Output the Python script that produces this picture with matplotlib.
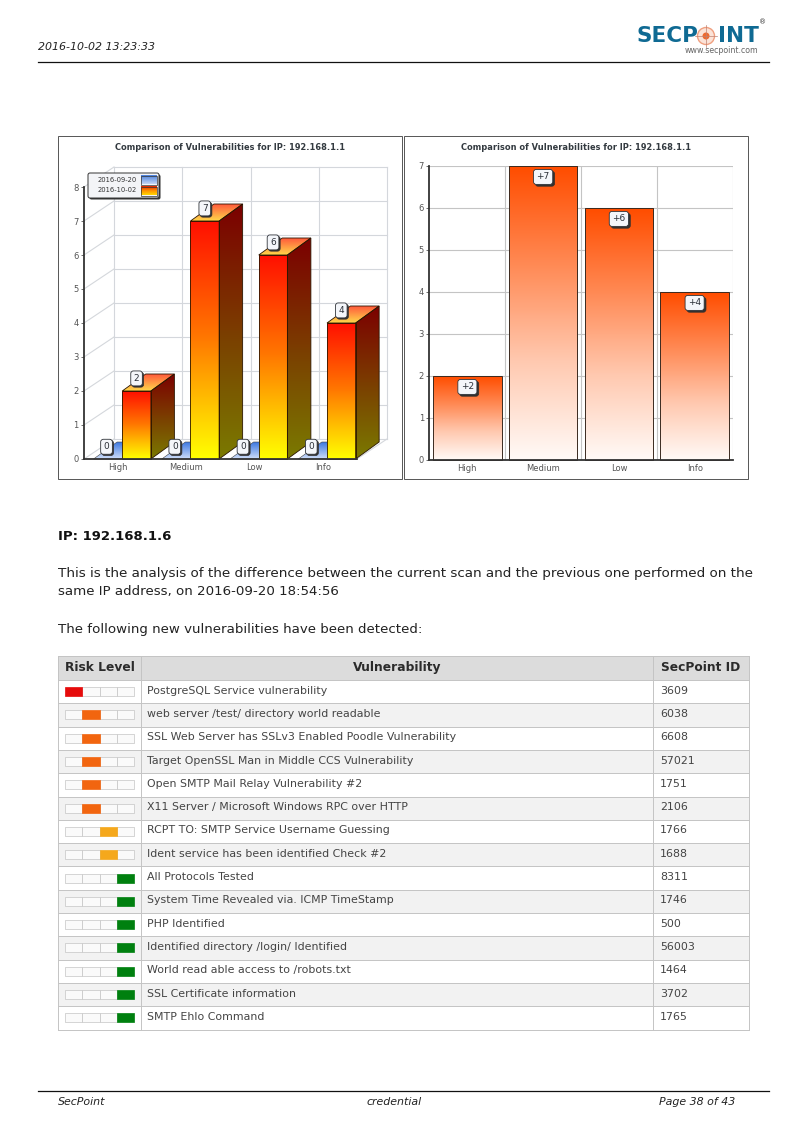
import numpy as np
import matplotlib
matplotlib.use("Agg")
import matplotlib.pyplot as plt
from matplotlib.colors import LinearSegmentedColormap as LSC
from matplotlib.patches import Polygon, Rectangle, Circle, FancyBboxPatch

W, H = 807, 1140
plt.rcParams['font.family'] = ['DejaVu Sans']

categories = ['High', 'Medium', 'Low', 'Info']
previous_scan = [0, 0, 0, 0]
current_scan = [2, 7, 6, 4]
difference = [2, 7, 6, 4]
legend_labels = ['2016-09-20', '2016-10-02']
chart_title = 'Comparison of Vulnerabilities for IP: 192.168.1.1'

risk_levels = [0, 1, 1, 1, 1, 1, 2, 2, 3, 3, 3, 3, 3, 3, 3]
vulnerabilities = [
    'PostgreSQL Service vulnerability',
    'web server /test/ directory world readable',
    'SSL Web Server has SSLv3 Enabled Poodle Vulnerability',
    'Target OpenSSL Man in Middle CCS Vulnerability',
    'Open SMTP Mail Relay Vulnerability #2',
    'X11 Server / Microsoft Windows RPC over HTTP',
    'RCPT TO: SMTP Service Username Guessing',
    'Ident service has been identified Check #2',
    'All Protocols Tested',
    'System Time Revealed via. ICMP TimeStamp',
    'PHP Identified',
    'Identified directory /login/ Identified',
    'World read able access to /robots.txt',
    'SSL Certificate information',
    'SMTP Ehlo Command',
]
secpoint_ids = [3609, 6038, 6608, 57021, 1751, 2106, 1766, 1688, 8311, 1746, 500, 56003, 1464, 3702, 1765]
risk_colors = ['#e60b0b', '#f2650f', '#f5a81c', '#00800f']

fig = plt.figure(figsize=(W / 100, H / 100), dpi=100, facecolor='white')


def px_axes(x0, y0, x1, y1, z):
    return fig.add_axes([x0 / W, 1 - y1 / H, (x1 - x0) / W, (y1 - y0) / H], zorder=z)


def grad(ax, extent, colors, clip=None, z=3):
    im = ax.imshow(np.linspace(0, 1, 128).reshape(-1, 1), extent=extent, origin='upper', aspect='auto',
                   cmap=LSC.from_list('g', colors), vmin=0, vmax=1, zorder=z, interpolation='bilinear')
    if clip is not None:
        patch = Polygon(clip, closed=True, transform=ax.transData)
        im.set_clip_path(patch)
    im.set_clip_box(fig.bbox)
    return im


def badge(ax, x, y, s, size=6.5, shadow=(1.6, -1.6), pad=0.3):
    ax.annotate(s, (x, y), xytext=shadow, textcoords='offset points', ha='center', va='center', fontsize=size,
                color='#33302e', zorder=8, annotation_clip=False,
                bbox=dict(boxstyle=f'round,pad={pad},rounding_size=0.3', fc='#33302e', ec='#33302e', lw=0.5))
    ax.annotate(s, (x, y), xytext=(0, 0), textcoords='offset points', ha='center', va='center', fontsize=size,
                color='#2b3038', zorder=9, annotation_clip=False,
                bbox=dict(boxstyle=f'round,pad={pad},rounding_size=0.3', fc='#f4f6fa', ec='#30343a', lw=0.6))


# ---------- page ----------
page = px_axes(0, 0, W, H, 0)
page.set_xlim(0, W)
page.set_ylim(H, 0)
page.axis('off')

page.text(38, 47, '2016-10-02 13:23:33', fontsize=7.95, style='italic', color='#222222', va='center')
page.plot([38, 769], [61.5, 61.5], color='#111111', lw=0.9)
page.plot([38, 769], [1090.5, 1090.5], color='#111111', lw=0.9)
page.text(58, 1102, 'SecPoint', fontsize=7.95, style='italic', color='#222222', va='center')
page.text(394, 1102, 'credential', fontsize=7.95, style='italic', color='#222222', va='center', ha='center')
page.text(697, 1102, 'Page 38 of 43', fontsize=7.95, style='italic', color='#222222', va='center', ha='center')

# logo
logo_blue = '#0f6a93'
page.text(636, 36, 'SECP', fontsize=15.5, fontweight='bold', color=logo_blue, va='center', ha='left')
page.text(718, 36, 'INT', fontsize=15.5, fontweight='bold', color=logo_blue, va='center', ha='left')
page.add_patch(Circle((706, 36), 8.5, fc='#fbe3d8', ec='#f0a080', lw=1))
page.add_patch(Circle((706, 36), 3.5, fc='#ee6a30', ec='none'))
page.plot([706, 706], [25, 47], color='#c08070', lw=0.5)
page.plot([695, 717], [36, 36], color='#c08070', lw=0.5)
page.text(763, 22, '®', fontsize=5, color='#333333', ha='center', va='center')
page.text(721, 50.5, 'www.secpoint.com', fontsize=5.7, color='#666666', ha='center', va='center')

# panels
page.add_patch(Rectangle((58, 135.5), 344, 343, fc='white', ec='#555555', lw=0.7))
page.add_patch(Rectangle((404, 135.5), 344, 343, fc='white', ec='#555555', lw=0.7))
page.text(230, 148, chart_title, fontsize=5.95, fontweight='bold', color='#333a40', ha='center', va='center')
page.text(576, 148, chart_title, fontsize=5.95, fontweight='bold', color='#333a40', ha='center', va='center')

# body text
page.text(58, 536, 'IP: 192.168.1.6', fontsize=9.5, fontweight='bold', color='#111111', va='center')
page.text(58, 573, 'This is the analysis of the difference between the current scan and the previous one performed on the',
          fontsize=9.69, color='#222222', va='center')
page.text(58, 592, 'same IP address, on 2016-09-20 18:54:56', fontsize=9.65, color='#222222', va='center')
page.text(58, 629, 'The following new vulnerabilities have been detected:', fontsize=9.65, color='#222222', va='center')

# table
tx = [58, 141, 653, 749]
top, head_bot, bot = 656, 680, 1029.5
row_h = (bot - head_bot) / len(vulnerabilities)
page.add_patch(Rectangle((tx[0], top), tx[3] - tx[0], head_bot - top, fc='#dcdcdc', ec='none'))
page.text(99.5, 667.5, 'Risk Level', fontsize=8.8, fontweight='bold', color='#2b2b2b', ha='center', va='center')
page.text(397, 667.5, 'Vulnerability', fontsize=8.8, fontweight='bold', color='#2b2b2b', ha='center', va='center')
page.text(701, 667.5, 'SecPoint ID', fontsize=8.8, fontweight='bold', color='#2b2b2b', ha='center', va='center')
for i, (lvl, name, vid) in enumerate(zip(risk_levels, vulnerabilities, secpoint_ids)):
    y0 = head_bot + i * row_h
    if i % 2:
        page.add_patch(Rectangle((tx[0], y0), tx[3] - tx[0], row_h, fc='#f2f2f2', ec='none'))
    page.plot([tx[0], tx[3]], [y0 + row_h] * 2, color='#c4c4c4', lw=0.7)
    cy = y0 + row_h / 2
    page.text(147, cy - 1, name, fontsize=7.9, color='#444444', va='center')
    page.text(660, cy - 1, str(vid), fontsize=7.9, color='#444444', va='center')
    seg = 17.25
    for s in range(4):
        page.add_patch(Rectangle((65 + s * seg, cy - 4.5), seg, 9, fc='#fafafa' if s != lvl else risk_colors[lvl],
                                 ec='#c4c4c4' if s != lvl else risk_colors[lvl], lw=0.5, zorder=3 if s == lvl else 2))
page.plot([tx[0], tx[3]], [head_bot, head_bot], color='#c4c4c4', lw=0.7)
page.plot([tx[0], tx[3]], [top, top], color='#c4c4c4', lw=0.7)
for x in tx:
    page.plot([x, x], [top, bot], color='#c4c4c4', lw=0.7)

# ---------- left chart (3D look) ----------
ax = px_axes(84, 187, 357, 459, 1)
ax.patch.set_visible(False)
n = len(categories)
ymax = 8
wall_dx, wall_dy = 30 / 68.25, 20 / 34
bar_dx, bar_dy = 23.5 / 68.25, 17 / 34
grid_c = '#d4d7dc'
for v in range(ymax + 1):
    ax.plot([wall_dx, n + wall_dx], [v + wall_dy] * 2, color=grid_c, lw=0.8, clip_on=False, zorder=1)
    ax.plot([0, wall_dx], [v, v + wall_dy], color=grid_c, lw=0.8, clip_on=False, zorder=1)
for c in range(n + 1):
    ax.plot([c + wall_dx] * 2, [wall_dy, ymax + wall_dy], color=grid_c, lw=0.8, clip_on=False, zorder=1)
ax.plot([n, n + wall_dx], [0, wall_dy], color=grid_c, lw=0.8, clip_on=False, zorder=1)

side = ['#7c0000', '#7a7a00']
front = ['#ff1000', '#ff7a00', '#ffff00']
topf = ['#ff5a3c', '#ffd84a']
blue = ['#3d78e0', '#d0def9']
width = 0.42
for i, (p, v) in enumerate(zip(previous_scan, current_scan)):
    b0 = i + 0.14
    b1 = b0 + width
    # previous scan bar (flat top)
    poly = [(b0, p), (b1, p), (b1 + bar_dx, p + bar_dy), (b0 + bar_dx, p + bar_dy)]
    grad(ax, (b0, b1 + bar_dx, p, p + bar_dy), blue, poly, z=2)
    ax.add_patch(Polygon(poly, fc='none', ec='#444444', lw=0.4, clip_on=False, zorder=2.5))
    # current scan bar
    x0, x1 = b1, b1 + width
    pf = [(x0, 0), (x1, 0), (x1, v), (x0, v)]
    ps = [(x1, 0), (x1 + bar_dx, bar_dy), (x1 + bar_dx, v + bar_dy), (x1, v)]
    pt = [(x0, v), (x1, v), (x1 + bar_dx, v + bar_dy), (x0 + bar_dx, v + bar_dy)]
    grad(ax, (x0, x1, 0, v), front, pf, z=4)
    grad(ax, (x1, x1 + bar_dx, 0, v + bar_dy), side, ps, z=4)
    grad(ax, (x0, x1 + bar_dx, v, v + bar_dy), topf, pt, z=4)
    for poly2 in (pf, ps, pt):
        ax.add_patch(Polygon(poly2, fc='none', ec='#2a1500', lw=0.6, clip_on=False, zorder=5))
    badge(ax, b0 + 0.19, p + 0.36, str(p), size=6.5, shadow=(0.9, -0.9), pad=0.33)
    badge(ax, x0 + 0.21, v + 0.37, str(v), size=6.5, shadow=(0.9, -0.9), pad=0.33)
ax.set_xlim(0, n)
ax.set_ylim(0, ymax)
ax.set_xticks(np.arange(n) + 0.5, categories)
ax.set_yticks(range(ymax + 1))
for s in ('top', 'right'):
    ax.spines[s].set_visible(False)
for s in ('left', 'bottom'):
    ax.spines[s].set_color('#333333')
    ax.spines[s].set_linewidth(1.3)
    ax.spines[s].set_zorder(6)
ax.tick_params(axis='x', length=0, labelsize=6, labelcolor='#555555', pad=3)
ax.tick_params(axis='y', length=2, width=0.6, color='#555555', labelsize=6, labelcolor='#555555', pad=2)

# ---------- right chart ----------
ar = px_axes(429.5, 166, 732.5, 460, 1)
ar.patch.set_visible(False)
ymax_r = 7
for v in range(1, ymax_r + 1):
    ar.plot([0, n], [v, v], color='#c4c4c4', lw=0.8, zorder=1)
for c in range(1, n + 1):
    ar.plot([c, c], [0, ymax_r], color='#c4c4c4', lw=0.8, zorder=1)
w_r = 0.905
for i, v in enumerate(difference):
    x0, x1 = i + 0.5 - w_r / 2, i + 0.5 + w_r / 2
    grad(ar, (x0, x1, 0, v), ['#ff4d00', '#ff8a55', '#ffc9b0', '#fffaf7'], None, z=3)
    ar.add_patch(Rectangle((x0, 0), x1 - x0, v, fc='none', ec='#3a2a20', lw=0.7, zorder=4, clip_on=False))
    badge(ar, i + 0.5, v - 0.26, f'+{v}', size=6.5, shadow=(1.3, -1.3), pad=0.33)
ar.set_xlim(0, n)
ar.set_ylim(0, ymax_r)
ar.set_xticks(np.arange(n) + 0.5, categories)
ar.set_yticks(range(ymax_r + 1))
for s in ('top', 'right'):
    ar.spines[s].set_visible(False)
for s in ('left', 'bottom'):
    ar.spines[s].set_color('#333333')
    ar.spines[s].set_linewidth(1.3)
    ar.spines[s].set_zorder(6)
ar.tick_params(axis='x', length=0, labelsize=6, labelcolor='#555555', pad=3)
ar.tick_params(axis='y', length=2, width=0.6, color='#555555', labelsize=6, labelcolor='#555555', pad=2)

# ---------- legend ----------
ov = px_axes(0, 0, W, H, 3)
ov.patch.set_visible(False)
ov.axis('off')
ov.add_patch(FancyBboxPatch((89.5, 174.5), 71, 25, boxstyle='round,pad=0,rounding_size=2', fc='#333333', ec='none'))
ov.add_patch(FancyBboxPatch((88, 173), 71, 25, boxstyle='round,pad=0,rounding_size=2', fc='#f3f4f7', ec='#333333', lw=0.7))
ov.text(137, 179.5, legend_labels[0], fontsize=4.9, color='#333333', ha='right', va='center')
ov.text(137, 190.5, legend_labels[1], fontsize=4.9, color='#333333', ha='right', va='center')
grad(ov, (141, 157, 184.5, 175.5), ['#4a80dc', '#c4d6f5'], None, z=5)
grad(ov, (141, 157, 195.5, 186.5), ['#e02000', '#ff9000', '#ffd800'], None, z=5)
ov.add_patch(Rectangle((141, 175.5), 16, 9, fc='none', ec='#333333', lw=0.5, zorder=6))
ov.add_patch(Rectangle((141, 186.5), 16, 9, fc='none', ec='#333333', lw=0.5, zorder=6))
ov.set_xlim(0, W)
ov.set_ylim(H, 0)

fig.savefig('out.png', dpi=100)
